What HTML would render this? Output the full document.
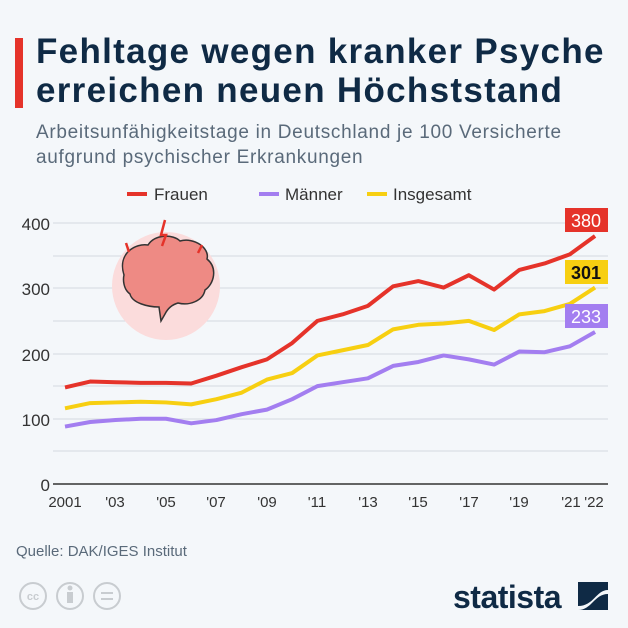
<!DOCTYPE html><html><head><meta charset="utf-8"><style>
body{margin:0;width:628px;height:628px;background:#f4f7fa;font-family:"Liberation Sans",sans-serif;overflow:hidden;position:relative}
.t{position:absolute;left:36px;top:32px;font-size:35px;font-weight:bold;color:#0f2a45;line-height:39px;letter-spacing:1.3px;white-space:nowrap}
.bar{position:absolute;left:15px;top:38px;width:8px;height:70px;background:#e5332a}
.s{position:absolute;left:36px;top:120px;font-size:19px;color:#5a6a7a;line-height:25px;letter-spacing:0.7px;white-space:nowrap}
.q{position:absolute;left:16px;top:543px;font-size:15px;color:#5a6a7a}
</style></head><body>
<div class="bar"></div>
<div class="t">Fehltage wegen kranker Psyche<br>erreichen neuen Höchststand</div>
<div class="s">Arbeitsunfähigkeitstage in Deutschland je 100 Versicherte<br>aufgrund psychischer Erkrankungen</div>
<svg width="628" height="628" style="position:absolute;left:0;top:0" font-family="Liberation Sans, sans-serif">
<g font-size="17" fill="#333">
<line x1="127" y1="194" x2="147" y2="194" stroke="#e5332a" stroke-width="4"/><text x="154" y="200">Frauen</text>
<line x1="259" y1="194" x2="279" y2="194" stroke="#a37ef0" stroke-width="4"/><text x="285" y="200">Männer</text>
<line x1="367" y1="194" x2="387" y2="194" stroke="#f7cf11" stroke-width="4"/><text x="393" y="200">Insgesamt</text>
</g>
<g stroke="#d5dae0" stroke-width="1">
<line x1="53" x2="608" y1="223" y2="223"/><line x1="53" x2="608" y1="256" y2="256"/><line x1="53" x2="608" y1="288" y2="288"/><line x1="53" x2="608" y1="321" y2="321"/><line x1="53" x2="608" y1="354" y2="354"/><line x1="53" x2="608" y1="386" y2="386"/><line x1="53" x2="608" y1="419" y2="419"/><line x1="53" x2="608" y1="451" y2="451"/>
</g>
<line x1="53" x2="608" y1="484" y2="484" stroke="#333" stroke-width="1.5"/>
<g font-size="17" fill="#333" text-anchor="end"><text x="50" y="230">400</text><text x="50" y="295">300</text><text x="50" y="361">200</text><text x="50" y="426">100</text><text x="50" y="491">0</text></g>
<g font-size="15" fill="#333" text-anchor="middle"><text x="65" y="507">2001</text><text x="115" y="507">'03</text><text x="166" y="507">'05</text><text x="216" y="507">'07</text><text x="267" y="507">'09</text><text x="317" y="507">'11</text><text x="368" y="507">'13</text><text x="418" y="507">'15</text><text x="469" y="507">'17</text><text x="519" y="507">'19</text><text x="571" y="507">'21</text><text x="594" y="507">'22</text></g>
<ellipse cx="166" cy="286" rx="54" ry="54" fill="#fbdcdc"/>
<path d="M124 275c-7-22 12-32 24-30 7-11 25-11 32-4 14-4 30 7 27 18 11 9 7 25-2 31-2 11-16 16-27 13-7 2-11 7-13 11l-4 7-2-14c-11 0-27-4-29-13-7-5-7-15-6-19z" fill="#ee8a84" stroke="#333" stroke-width="1.5"/>
<path d="M165 220l-4 15h5l-4 11" stroke="#e5332a" stroke-width="2.5" fill="none"/>
<path d="M126 243l3 9M202 245l-4 8" stroke="#e5332a" stroke-width="2.5"/>
<g fill="none" stroke-width="4" stroke-linejoin="round" transform="translate(65,484) scale(25.24,-0.6525)">
<polyline vector-effect="non-scaling-stroke" stroke="#a37ef0" points="0,88 1,95 2,98 3,100 4,100 5,93 6,98 7,107 8,114 9,130 10,150 11,156 12,162 13,181 14,187 15,197 16,191 17,183 18,203 19,202 20,211 21,233"/>
<polyline vector-effect="non-scaling-stroke" stroke="#f7cf11" points="0,116 1,124 2,125 3,126 4,125 5,122 6,130 7,140 8,160 9,170 10,197 11,205 12,213 13,237 14,244 15,246 16,250 17,236 18,260 19,265 20,276 21,301"/>
<polyline vector-effect="non-scaling-stroke" stroke="#e5332a" points="0,148 1,157 2,156 3,155 4,155 5,154 6,166 7,179 8,191 9,216 10,250 11,260 12,273 13,303 14,311 15,301 16,320 17,298 18,328 19,338 20,352 21,380"/>
</g>
<rect x="565" y="208" width="43" height="24" fill="#e5332a"/><text x="586" y="227" font-size="18" fill="#fff" text-anchor="middle">380</text>
<rect x="565" y="260" width="43" height="24" fill="#f7cf11"/><text x="586" y="279" font-size="18" fill="#111" text-anchor="middle" font-weight="bold">301</text>
<rect x="565" y="304" width="43" height="24" fill="#a37ef0"/><text x="586" y="323" font-size="18" fill="#fff" text-anchor="middle">233</text>
<g fill="none" stroke="#c8ccd0" stroke-width="2"><circle cx="33" cy="596" r="13"/><circle cx="70" cy="596" r="13"/><circle cx="107" cy="596" r="13"/></g>
<text x="33" y="600" font-size="11" fill="#c8ccd0" text-anchor="middle" font-weight="bold">cc</text>
<rect x="67" y="592" width="6" height="11" fill="#c8ccd0"/><circle cx="70" cy="588" r="2.5" fill="#c8ccd0"/>
<rect x="101" y="592" width="12" height="2" fill="#c8ccd0"/><rect x="101" y="598" width="12" height="2" fill="#c8ccd0"/>
<text x="453" y="608" font-size="32" font-weight="bold" fill="#0f2a45" letter-spacing="-0.5">statista</text>
<path d="M578 582h30v8c-12 0-14 16-30 16zM578 610c14 0 16-16 30-16v16z" fill="#0f2a45"/>
</svg>
<div class="q">Quelle: DAK/IGES Institut</div>
</body></html>
